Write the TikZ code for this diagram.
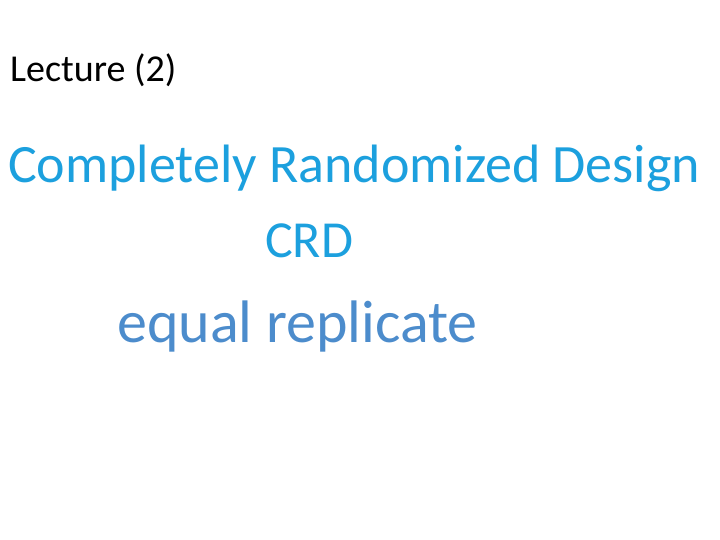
\documentclass[tikz,border=0pt]{standalone}
\usepackage{fontspec}
\setmainfont{Carlito}
\definecolor{cyanb}{RGB}{28,160,222}
\definecolor{mblue}{RGB}{76,140,204}
\begin{document}
\begin{tikzpicture}[x=1pt,y=-1pt,txt/.style={anchor=base west,inner sep=0pt}]
\useasboundingbox[fill=white] (0,0) rectangle (720,540);
\node[txt,font=\fontsize{38}{42}\selectfont] (lec) at (10,82) {Lecture (2)};
\node[txt,font=\fontsize{54}{60}\selectfont,text=cyanb] (t1) at (8,183) {Completely Randomized Design};
\node[txt,font=\fontsize{52}{58}\selectfont,text=cyanb] (t2) at (265,258) {CRD};
\node[txt,font=\fontsize{60}{66}\selectfont,text=mblue] (t3) at (117,342) {equal replicate};
\end{tikzpicture}
\end{document}
